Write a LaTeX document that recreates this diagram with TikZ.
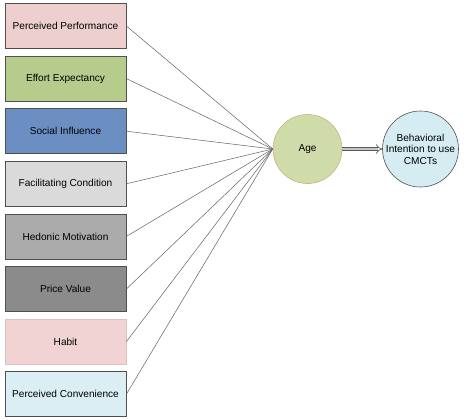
\documentclass[tikz,border=0pt]{standalone}
\usepackage{fontspec}
\setmainfont{Liberation Sans}
\usetikzlibrary{arrows.meta}
\definecolor{cPP}{HTML}{EDCFCF}
\definecolor{cEE}{HTML}{B6CB8C}
\definecolor{cSI}{HTML}{6B8FC2}
\definecolor{cFC}{HTML}{DADADA}
\definecolor{cHM}{HTML}{ABABAB}
\definecolor{cPV}{HTML}{8B8B8B}
\definecolor{cHB}{HTML}{F2D3D3}
\definecolor{cPC}{HTML}{DAEEF3}
\definecolor{cAge}{HTML}{CFDCA9}
\definecolor{cBI}{HTML}{D5EDF2}
\definecolor{bord}{HTML}{505050}
\begin{document}
\begin{tikzpicture}[x=1pt,y=-1pt,
  factor/.style={draw=bord,line width=0.8pt,minimum width=121pt,minimum height=45pt,inner sep=0pt,font=\fontsize{10.1}{11.5}\selectfont},
  link/.style={draw=bord!90,line width=0.5pt},
  circ/.style={circle,inner sep=0pt,font=\fontsize{10.1}{11.5}\selectfont,align=center}]
\useasboundingbox (0,0) rectangle (474,420);
\node[factor,fill=cPP] (pp) at (65.5,26) {Perceived Performance};
\node[factor,fill=cEE] (ee) at (65.5,78.6) {Effort Expectancy};
\node[factor,fill=cSI] (si) at (65.5,131.2) {Social Influence};
\node[factor,fill=cFC] (fc) at (65.5,183.8) {Facilitating Condition};
\node[factor,fill=cHM] (hm) at (65.5,236.4) {Hedonic Motivation};
\node[factor,fill=cPV] (pv) at (65.5,289) {Price Value};
\node[factor,fill=cHB,draw=cHB!80!gray] (hb) at (65.5,341.6) {Habit};
\node[factor,fill=cPC] (pc) at (65.5,394.2) {Perceived Convenience};
\node[circ,fill=cAge,draw=cAge!55!brown,line width=0.6pt,minimum size=69pt] (age) at (307.5,149) {Age};
\node[circ,fill=cBI,draw=bord,line width=0.6pt,minimum size=76pt] (bi) at (420.5,149) {Behavioral\\Intention to use\\CMCTs};
\foreach \n in {pp,ee,si,fc,hm,pv,hb,pc}
  \draw[link] (\n.east) -- (age.west);
\draw[draw=gray!70!black,double=gray!45,double distance=2.6pt,line width=0.7pt,-{Implies[length=4pt]}] (age.east) -- (bi.west);
\end{tikzpicture}
\end{document}
